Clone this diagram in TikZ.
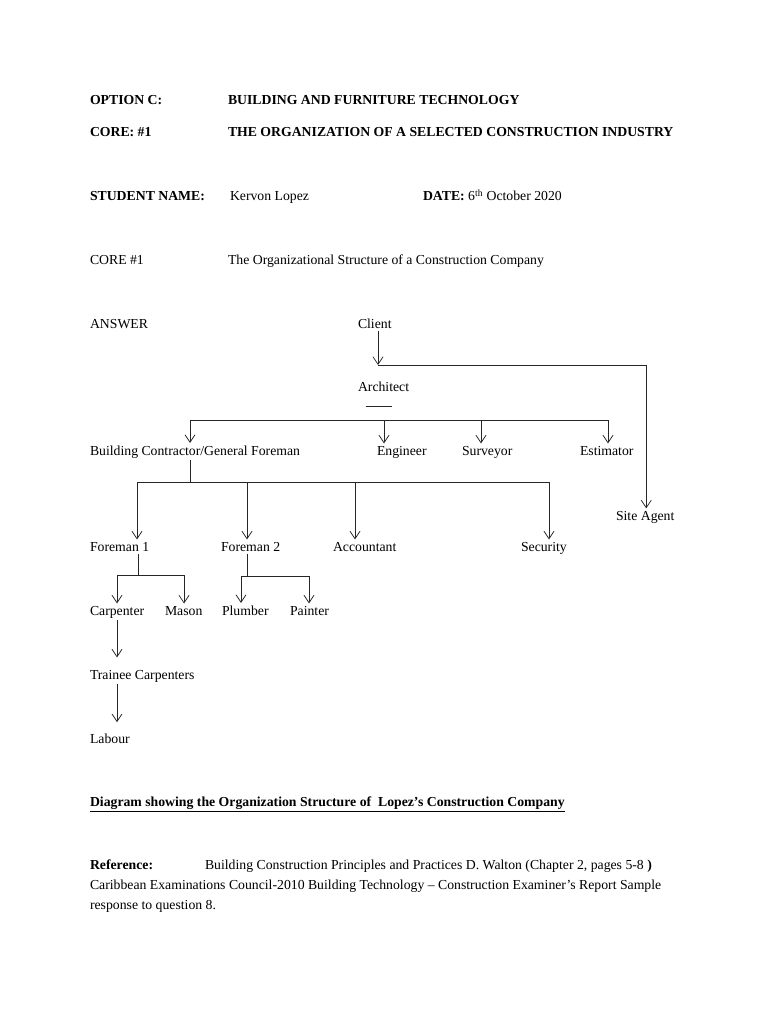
\documentclass[tikz,border=0pt]{standalone}
\usepackage{fontspec}
\setmainfont{Liberation Serif}
\usetikzlibrary{arrows.meta,calc,positioning}
\tikzset{txt/.style={anchor=base west,inner sep=0pt,outer sep=2pt,xshift=-2pt,yshift=-0.8pt,font=\fontsize{11}{13}\selectfont},
  bold txt/.style={txt,font=\fontsize{11}{13}\selectfont\bfseries},
  link/.style={line width=0.6pt,draw=black!85},
  arrow link/.style={link,-{Straight Barb[length=6pt,width=8pt]}}}

\begin{document}
\begin{tikzpicture}[x=0.8pt,y=-0.8pt]
\fill[white] (0,0) rectangle (768,1024);
\useasboundingbox (0,0) rectangle (768,1024);

% Heading block
\node[bold txt] (opt) at (90,104) {OPTION C:};
\node[bold txt] (optval) at (228,104) {BUILDING AND FURNITURE TECHNOLOGY};
\node[bold txt] (core) at (90,136) {CORE: \#1};
\node[bold txt] (coreval) at (228,136) {THE ORGANIZATION OF A SELECTED CONSTRUCTION INDUSTRY};
\node[bold txt] (stud) at (90,200) {STUDENT NAME:};
\node[txt] (studval) at (230,200) {Kervon Lopez};
\node[txt] (date) at (423,200) {\textbf{DATE:} 6\textsuperscript{th} October 2020};
\node[txt] (core2) at (90,264) {CORE \#1};
\node[txt] (core2val) at (228,264) {The Organizational Structure of a Construction Company};
\node[txt] (answer) at (90,327) {ANSWER};

% Top of the chart: client, architect, site agent
\node[txt] (client) at (358,327) {Client};
\node[txt] (arch) at (358,390) {Architect};
\node[txt] (site) at (616,519) {Site Agent};
\coordinate (cj) at (378,365);
\draw[arrow link] (client.south -| cj) -- (cj);
\draw[arrow link] (cj) -| ($(site.north)+(1,0)$);
\draw[link] ($(arch.south west)+(10,13)$) -- ++(26,0);

% Second row
\node[txt] (bc) at (90,454) {Building Contractor/General Foreman};
\node[txt] (eng) at (377,454) {Engineer};
\node[txt] (surv) at (462,454) {Surveyor};
\node[txt] (est) at (580,454) {Estimator};
\coordinate (a1) at (190,420);
\coordinate (a2) at (384,420);
\coordinate (a3) at (481,420);
\coordinate (a4) at (608,420);
\draw[link] (a1) -- (a4);
\draw[arrow link] (a1) -- (a1 |- bc.north);
\draw[arrow link] (a2) -- (a2 |- eng.north);
\draw[arrow link] (a3) -- (a3 |- surv.north);
\draw[arrow link] (a4) -- (a4 |- est.north);

% Third row
\node[txt] (fm1) at (90,550) {Foreman 1};
\node[txt] (fm2) at (221,550) {Foreman 2};
\node[txt] (acc) at (333,550) {Accountant};
\node[txt] (sec) at (521,550) {Security};
\coordinate (b1) at (137,482);
\coordinate (b2) at (247,482);
\coordinate (b3) at (355,482);
\coordinate (b4) at (549,482);
\draw[link] (bc.south -| a1) -- (a1 |- b1);
\draw[link] (b1) -- (b4);
\draw[arrow link] (b1) -- (b1 |- fm1.north);
\draw[arrow link] (b2) -- (b2 |- fm2.north);
\draw[arrow link] (b3) -- (b3 |- acc.north);
\draw[arrow link] (b4) -- (b4 |- sec.north);

% Trades under the foremen
\node[txt] (carp) at (90,614) {Carpenter};
\node[txt] (mason) at (165,614) {Mason};
\node[txt] (plumb) at (222,614) {Plumber};
\node[txt] (paint) at (290,614) {Painter};
\coordinate (c1) at (117,575);
\coordinate (c2) at (184,575);
\coordinate (c3) at (241,576);
\coordinate (c4) at (309,576);
\draw[link] (fm1.south -| 138,0) -- (138,575);
\draw[link] (c1) -- (c2);
\draw[arrow link] (c1) -- (c1 |- carp.north);
\draw[arrow link] (c2) -- (c2 |- mason.north);
\draw[link] (fm2.south -| b2) -- (b2 |- c3);
\draw[link] (c3) -- (c4);
\draw[arrow link] (c3) -- (c3 |- plumb.north);
\draw[arrow link] (c4) -- (c4 |- paint.north);

% Carpenter line down
\node[txt] (trainee) at (90,678) {Trainee Carpenters};
\node[txt] (labour) at (90,742) {Labour};
\draw[arrow link,shorten >=8pt] (carp.south -| c1) -- (c1 |- trainee.north);
\draw[arrow link,shorten >=7pt] (trainee.south -| c1) -- (c1 |- labour.north);

% Caption and reference
\node[bold txt] (caption) at (90,805) {\underline{Diagram showing the Organization Structure of~ Lopez’s Construction Company}};
\node[bold txt] (ref) at (90,868) {Reference:};
\node[txt] (ref1) at (205,868) {Building Construction Principles and Practices D. Walton (Chapter 2, pages 5-8 \textbf{)}};
\node[txt] (ref2) at (90,888) {Caribbean Examinations Council-2010 Building Technology – Construction Examiner’s Report Sample};
\node[txt] (ref3) at (90,908) {response to question 8.};

\end{tikzpicture}
\end{document}
